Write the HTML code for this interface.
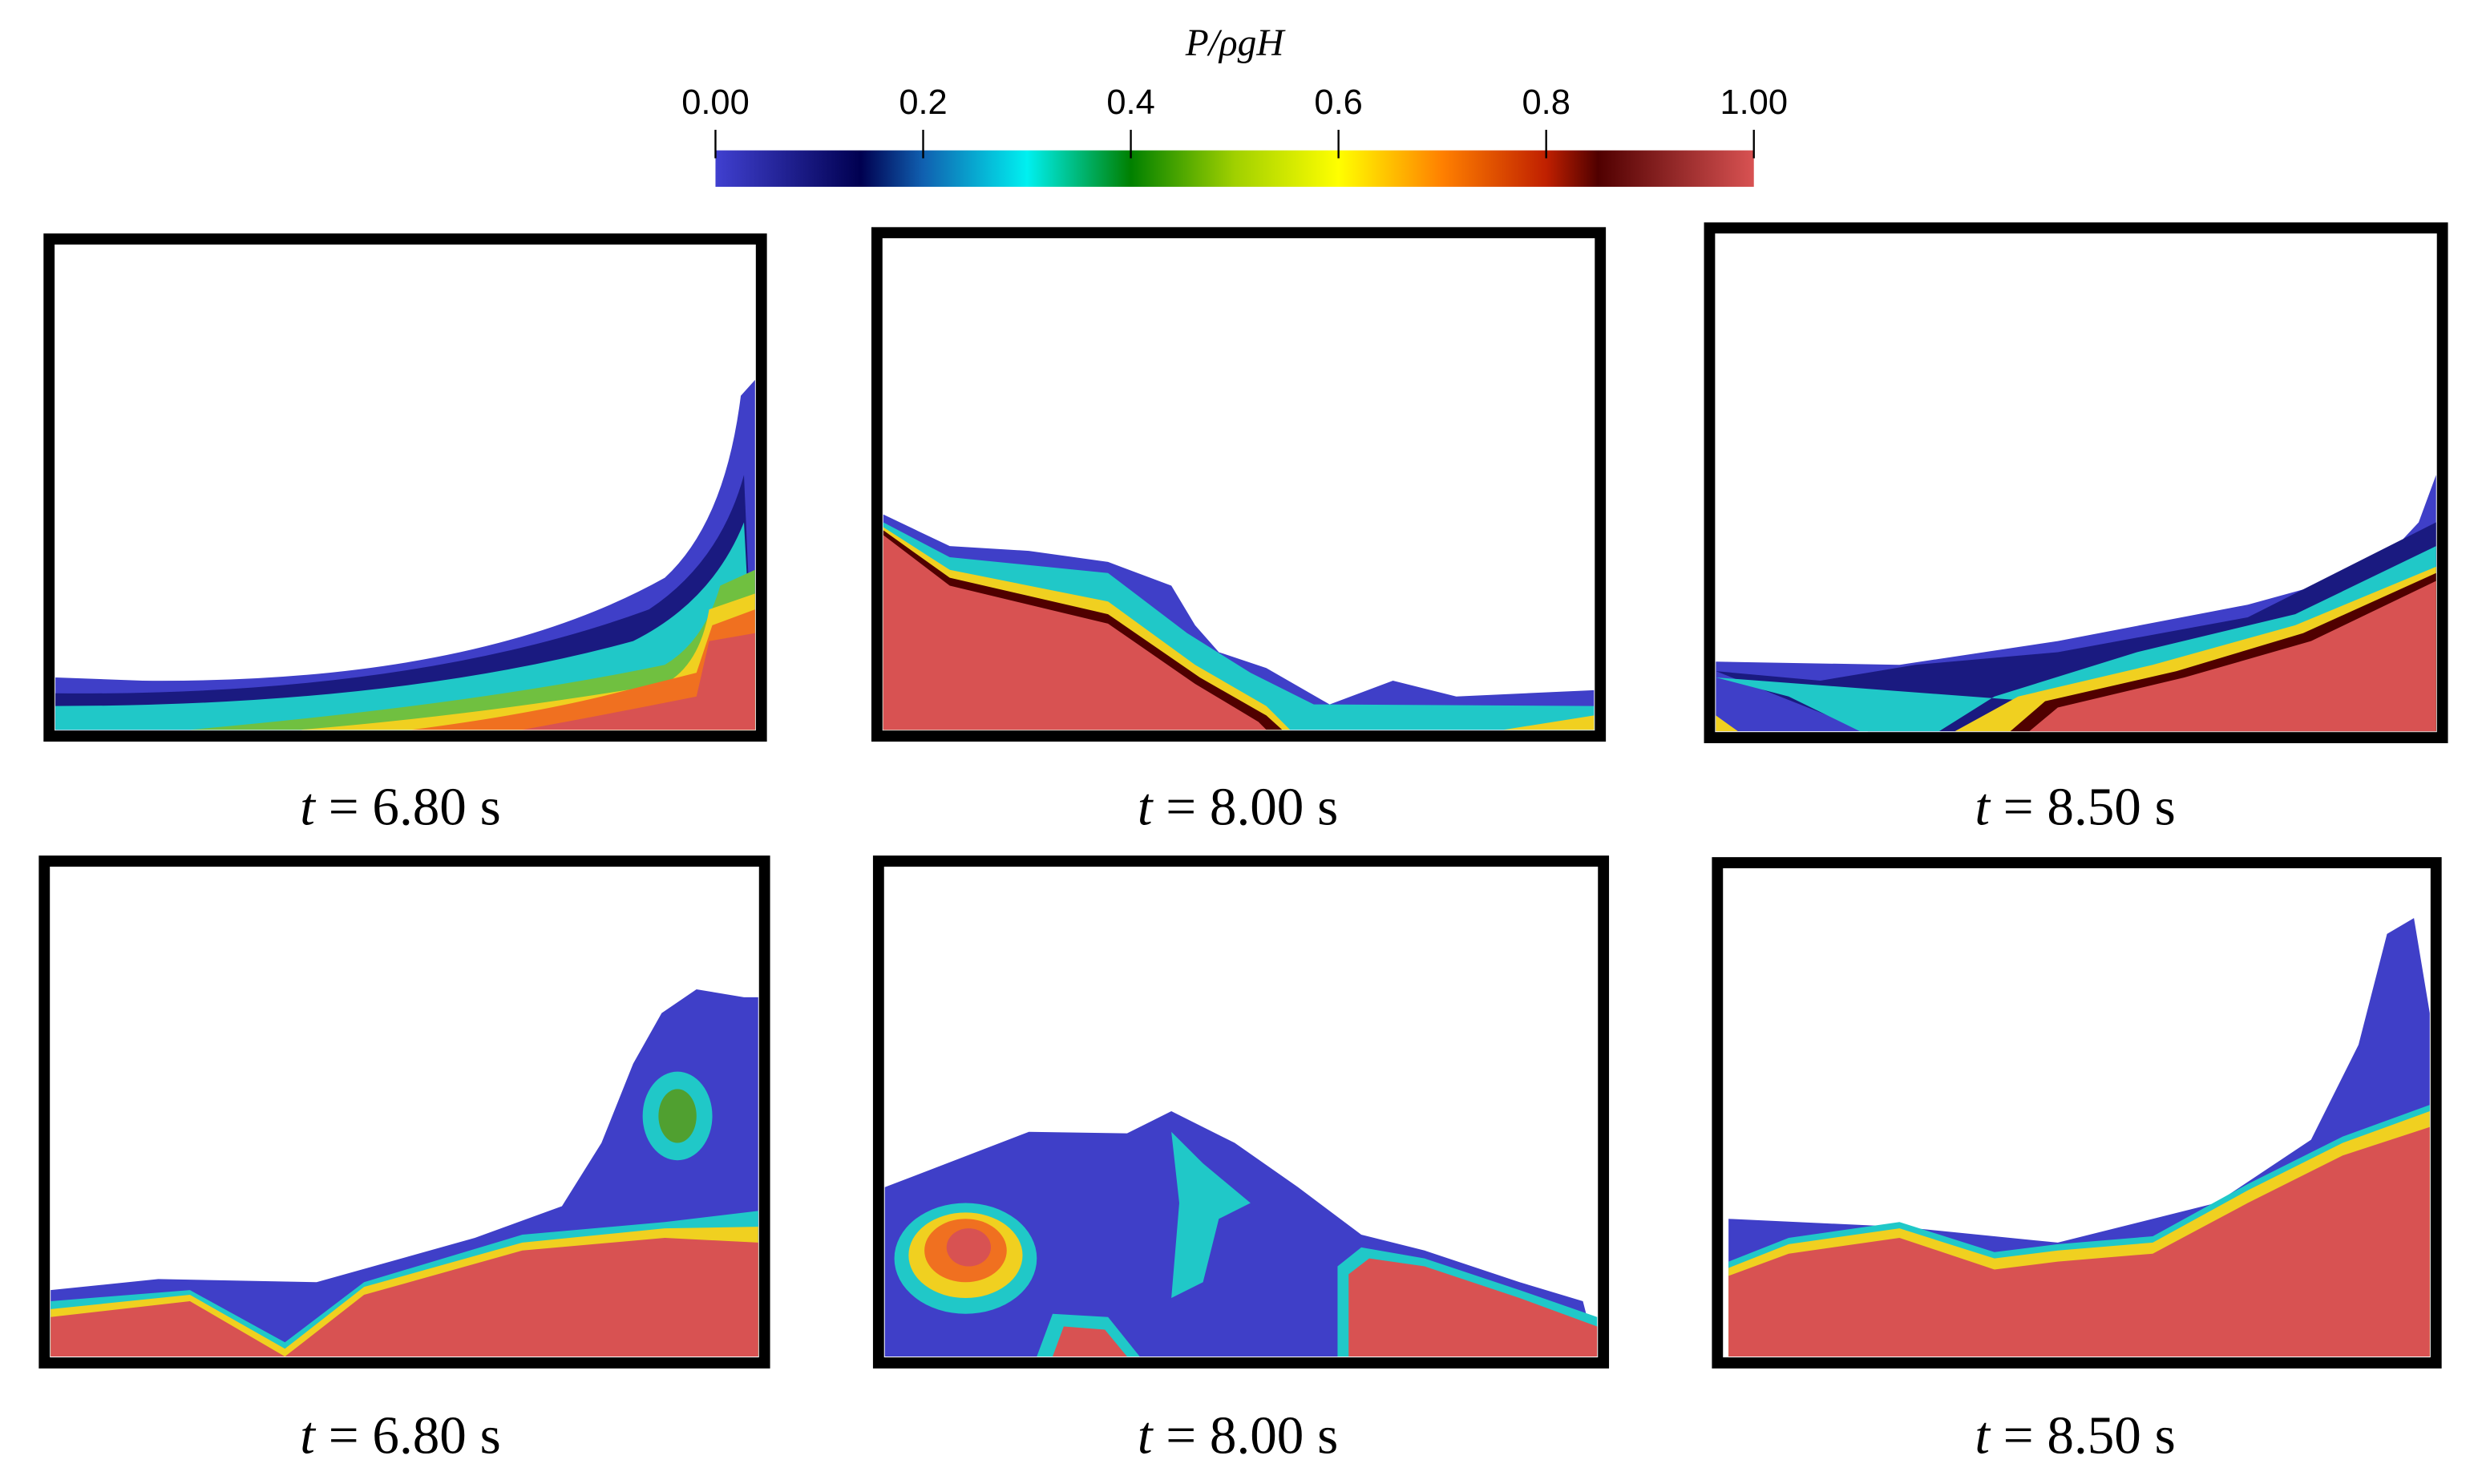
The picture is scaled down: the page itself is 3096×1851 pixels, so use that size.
<!DOCTYPE html>
<html><head><meta charset="utf-8">
<style>
html,body{margin:0;padding:0;background:#fff;}
svg{display:block;}
</style></head>
<body>
<svg id="fig" width="3096" height="1851" viewBox="0 0 1568 937.5" preserveAspectRatio="none" xmlns="http://www.w3.org/2000/svg">
<defs>
<linearGradient id="cmap" x1="0" x2="1" y1="0" y2="0"></linearGradient>
</defs>
<text x="780" y="35" text-anchor="middle" font-family="Liberation Serif, serif" font-style="italic" font-size="24">P/ρgH</text>
<rect x="452" y="95" width="656" height="23" fill="url(#cmap)"/>
<g id="cbticks"></g>

<!-- Panel 1 -->
<g>
<path fill="#3f3fc8" d="M35,428 L90,430 Q300,432 420,365 Q458,330 468,250 L477,240 L477,461 L35,461Z"/>
<path fill="#1a1a80" d="M35,438 Q260,440 410,385 Q455,355 470,300 L477,461 L35,461Z"/>
<path fill="#20c8c8" d="M35,446 Q250,446 400,405 Q450,380 470,330 L477,461 L35,461Z"/>
<path fill="#70c040" d="M120,461 Q300,445 420,420 Q445,405 455,370 L477,360 L477,461Z"/>
<path fill="#f0d020" d="M190,461 Q300,452 420,432 Q442,420 448,385 L477,375 L477,461Z"/>
<path fill="#f07020" d="M260,461 Q330,452 380,440 L440,425 L450,395 L477,385 L477,461Z"/>
<path fill="#d85252" d="M330,461 Q380,452 440,440 L448,405 L477,400 L477,461Z"/>
<rect x="31" y="151" width="450" height="314" fill="none" stroke="#000" stroke-width="7"/>
</g>

<!-- Panel 2 -->
<g>
<path fill="#3f3fc8" d="M558,325 L600,345 L650,348 L700,355 L740,370 L755,395 L770,412 L800,422 L840,445 L880,430 L920,440 L1007,436 L1007,461 L558,461Z"/>
<path fill="#20c8c8" d="M558,330 L600,352 L700,362 L750,400 L790,425 L830,445 L1007,446 L1007,461 L558,461Z"/>
<path fill="#f0d020" d="M558,333 L600,360 L700,380 L755,420 L800,446 L815,461 L558,461Z"/>
<path fill="#500000" d="M558,335 L600,365 L700,388 L758,428 L800,452 L810,461 L558,461Z"/>
<path fill="#d85252" d="M558,338 L600,370 L700,394 L755,432 L795,456 L800,461 L558,461Z"/>
<path fill="#f0d020" d="M950,461 L1007,452 L1007,461Z"/>
<rect x="554" y="147" width="457" height="318" fill="none" stroke="#000" stroke-width="7"/>
</g>

<!-- Panel 3 -->
<g>
<path fill="#3f3fc8" d="M1084,418 L1200,420 L1300,405 L1420,382 L1500,360 L1528,330 L1539,300 L1539,462 L1084,462Z"/>
<path fill="#1a1a80" d="M1084,424 L1150,430 L1210,420 L1300,412 L1420,390 L1539,330 L1539,462 L1180,462Z"/>
<path fill="#20c8c8" d="M1084,428 L1130,440 L1175,462 L1225,462 L1260,440 L1350,412 L1450,388 L1539,345 L1539,462Z"/>
<path fill="#f0d020" d="M1084,452 L1098,462 L1084,462Z M1235,462 L1275,440 L1360,420 L1450,395 L1539,358 L1539,462Z"/>
<path fill="#500000" d="M1270,462 L1292,443 L1375,424 L1455,400 L1539,362 L1539,462Z"/>
<path fill="#d85252" d="M1282,462 L1300,447 L1380,428 L1460,405 L1539,367 L1539,462Z"/>
<rect x="1080" y="144" width="463" height="322" fill="none" stroke="#000" stroke-width="7"/>
</g>

<!-- Panel 4 -->
<g>
<path fill="#3f3fc8" d="M32,815 L100,808 L200,810 L300,782 L355,762 L380,722 L400,672 L418,640 L440,625 L470,630 L479,630 L479,857 L32,857Z"/>
<ellipse cx="428" cy="705" rx="22" ry="28" fill="#20c8c8"/>
<ellipse cx="428" cy="705" rx="12" ry="17" fill="#50a030"/>
<path fill="#20c8c8" d="M32,822 L120,815 L180,848 L230,810 L330,780 L420,772 L479,765 L479,857 L32,857Z"/>
<path fill="#f0d020" d="M32,827 L120,818 L180,852 L230,813 L330,785 L420,776 L479,775 L479,857 L32,857Z"/>
<path fill="#d85252" d="M32,832 L120,822 L180,857 L230,818 L330,790 L420,782 L479,785 L479,857 L32,857Z"/>
<rect x="28" y="544" width="455" height="317" fill="none" stroke="#000" stroke-width="7"/>
</g>

<!-- Panel 5 -->
<g>
<path fill="#3f3fc8" d="M559,750 L650,715 L712,716 L740,702 L780,722 L820,750 L860,780 L900,790 L960,810 L1000,822 L1009,857 L559,857Z"/>
<path fill="#20c8c8" d="M845,857 L845,800 L860,788 L900,795 L960,815 L1009,832 L1009,857Z"/>
<path fill="#d85252" d="M852,857 L852,805 L865,795 L900,800 L960,820 L1009,838 L1009,857Z"/>
<path fill="#20c8c8" d="M740,715 L760,735 L790,760 L770,770 L760,810 L740,820 L745,760Z"/>
<ellipse cx="610" cy="795" rx="45" ry="35" fill="#20c8c8"/>
<ellipse cx="610" cy="793" rx="36" ry="27" fill="#f0d020"/>
<ellipse cx="610" cy="790" rx="26" ry="20" fill="#f07020"/>
<ellipse cx="612" cy="788" rx="14" ry="12" fill="#d85252"/>
<path fill="#20c8c8" d="M655,857 L665,830 L700,832 L720,857Z"/>
<path fill="#d85252" d="M665,857 L672,838 L698,840 L712,857Z"/>
<rect x="555" y="544" width="458" height="317" fill="none" stroke="#000" stroke-width="7"/>
</g>

<!-- Panel 6 -->
<g>
<path fill="#3f3fc8" d="M1092,770 L1200,775 L1300,785 L1400,760 L1460,720 L1490,660 L1508,590 L1525,580 L1535,640 L1535,857 L1092,857Z"/>
<path fill="#20c8c8" d="M1092,797 L1130,782 L1200,772 L1260,791 L1300,786 L1360,781 L1420,748 L1480,718 L1535,698 L1535,857 L1092,857Z"/>
<path fill="#f0d020" d="M1092,801 L1130,786 L1200,776 L1260,795 L1300,790 L1360,785 L1420,752 L1480,722 L1535,702 L1535,857 L1092,857Z"/>
<path fill="#d85252" d="M1092,806 L1130,792 L1200,782 L1260,802 L1300,797 L1360,792 L1420,760 L1480,730 L1535,712 L1535,857 L1092,857Z"/>
<rect x="1085" y="545" width="454" height="316" fill="none" stroke="#000" stroke-width="7"/>
</g>

<g font-family="Liberation Serif, serif" font-size="34" text-anchor="middle">
<text x="253" y="521"><tspan font-style="italic">t</tspan> = 6.80 s</text>
<text x="782" y="521"><tspan font-style="italic">t</tspan> = 8.00 s</text>
<text x="1311" y="521"><tspan font-style="italic">t</tspan> = 8.50 s</text>
<text x="253" y="918"><tspan font-style="italic">t</tspan> = 6.80 s</text>
<text x="782" y="918"><tspan font-style="italic">t</tspan> = 8.00 s</text>
<text x="1311" y="918"><tspan font-style="italic">t</tspan> = 8.50 s</text>
</g>
</svg>
<script>
const tickValues = [0, 0.2, 0.4, 0.6, 0.8, 1.0];
const tickLabels = ["0.00", "0.2", "0.4", "0.6", "0.8", "1.00"];
const stopValues = [0, 0.14, 0.2, 0.3, 0.4, 0.5, 0.6, 0.7, 0.8, 0.85, 1.0];
const stopColors = ["#4040d0", "#000050", "#1060b0", "#00f0f0", "#008000", "#a0d000", "#ffff00", "#ff8000", "#c02000", "#500000", "#d85252"];
const NS = "http://www.w3.org/2000/svg";
const x0 = 452, x1 = 1108;
function xScale(v){ return x0 + (x1 - x0) * v; }
const grad = document.getElementById('cmap');
stopValues.forEach((v, i) => {
  const s = document.createElementNS(NS, 'stop');
  s.setAttribute('offset', v);
  s.setAttribute('stop-color', stopColors[i]);
  grad.appendChild(s);
});
const g = document.getElementById('cbticks');
tickValues.forEach((v, i) => {
  const x = xScale(v);
  const ln = document.createElementNS(NS, 'line');
  
  
  ln.setAttribute('x1', x); ln.setAttribute('x2', x);
  ln.setAttribute('y1', 82); ln.setAttribute('y2', 100);
  ln.setAttribute('stroke', '#000'); ln.setAttribute('stroke-width', '1.2');
  g.appendChild(ln);
  const t = document.createElementNS(NS, 'text');
  
  
  t.setAttribute('x', x); t.setAttribute('y', 72);
  t.setAttribute('text-anchor', 'middle');
  t.setAttribute('font-family', 'Liberation Sans, sans-serif');
  t.setAttribute('font-size', '22');
  t.textContent = tickLabels[i];
  g.appendChild(t);
});
</script>
</body></html>
